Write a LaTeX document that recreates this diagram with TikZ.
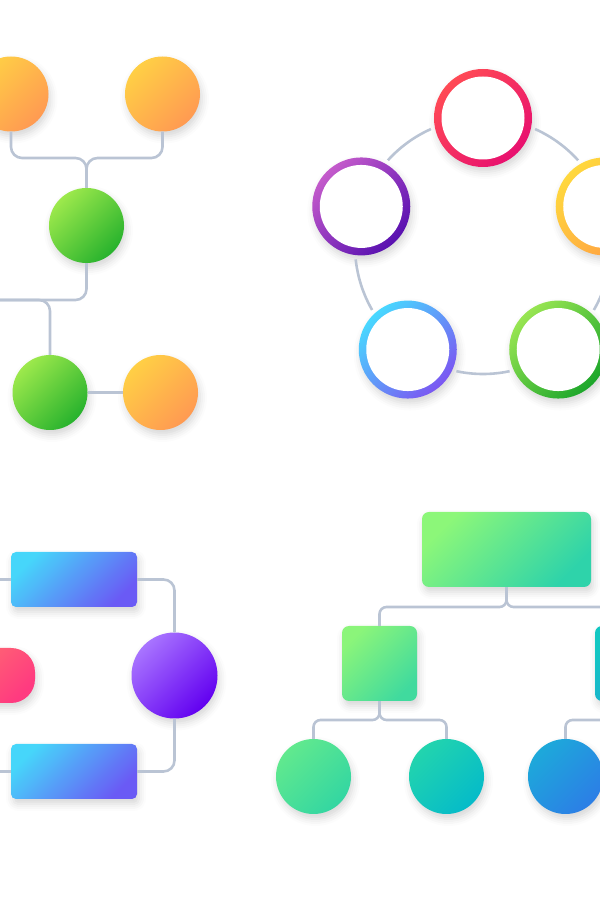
\documentclass[tikz,border=0pt]{standalone}
\usetikzlibrary{calc,shadows.blur}

\definecolor{linje}{HTML}{BAC4D4}
\definecolor{oransjeA}{HTML}{FFCF45}
\definecolor{oransjeB}{HTML}{FF9A52}
\definecolor{gronnA}{HTML}{9DE94C}
\definecolor{gronnB}{HTML}{27B22D}
\definecolor{rodA}{HTML}{FF4A55}
\definecolor{rodB}{HTML}{E8106F}
\definecolor{gulA}{HTML}{FFD83E}
\definecolor{gulB}{HTML}{FF9E42}
\definecolor{lillaA}{HTML}{C45BCB}
\definecolor{lillaB}{HTML}{5810B0}
\definecolor{blaaA}{HTML}{48D8FF}
\definecolor{blaaB}{HTML}{7B56F2}
\definecolor{ringgronnA}{HTML}{98E552}
\definecolor{ringgronnB}{HTML}{1CA62B}
\definecolor{boksA}{HTML}{46D6FA}
\definecolor{boksB}{HTML}{6A5AF5}
\definecolor{fiolA}{HTML}{A874FF}
\definecolor{fiolB}{HTML}{6200F0}
\definecolor{rosaA}{HTML}{FF7070}
\definecolor{rosaB}{HTML}{FF3A80}
\definecolor{mintA}{HTML}{8CF779}
\definecolor{mintB}{HTML}{2ED3AA}
\definecolor{kvadA}{HTML}{8BF57A}
\definecolor{kvadB}{HTML}{40DA9E}
\definecolor{tealA}{HTML}{12C7C2}
\definecolor{tealB}{HTML}{1CA5D2}
\definecolor{venA}{HTML}{61E98E}
\definecolor{venB}{HTML}{33D6A2}
\definecolor{midA}{HTML}{22D4AE}
\definecolor{midB}{HTML}{05BBC9}
\definecolor{hoyA}{HTML}{1DA9DA}
\definecolor{hoyB}{HTML}{2C7EE6}

\begin{document}
\begin{tikzpicture}[x=1pt, y=1pt,
	link/.style={linje, line width=2.6pt, rounded corners=11pt},
	skygge/.style={blur shadow={shadow xshift=2pt, shadow yshift=-5pt, shadow blur radius=7pt, shadow opacity=16}},
	ball/.style 2 args={circle, inner sep=0pt, minimum size=75pt, skygge, top color=#1, bottom color=#2, shading angle=45},
	ring/.style 2 args={circle, inner sep=0pt, minimum size=98pt, skygge, top color=#1, bottom color=#2, shading angle=45,
		path picture={\fill[white] (path picture bounding box.center) circle (41.5pt);}},
	boks/.style 2 args={rectangle, inner sep=0pt, rounded corners=5pt, skygge, top color=#1, bottom color=#2, shading angle=45}]
	\useasboundingbox (0,0) rectangle (600,900);
	\clip (0,0) rectangle (600,900);

	% Oppe til venstre: tre av baller
	\node[ball={oransjeA}{oransjeB}] (o1) at (11,806) {};
	\node[ball={oransjeA}{oransjeB}] (o2) at (162.5,806) {};
	\node[ball={gronnA}{gronnB}] (g1) at (86.5,674.5) {};
	\node[ball={gronnA}{gronnB}] (g2) at (50,507.5) {};
	\node[ball={oransjeA}{oransjeB}] (o3) at (160.5,507.5) {};
	\coordinate (jA) at (86.5,742);
	\coordinate (eA) at (-10,600);
	\draw[link] (o1.south) |- (jA) -- (g1.north);
	\draw[link] (o2.south) |- (jA) -- (g1.north);
	\draw[link] (g1.south) |- (eA);
	\draw[link] (eA) -| (g2.north);
	\draw[link] (g2.east) -- (o3.west);

	% Oppe til hoyre: ringer rundt et nav
	\coordinate (hub) at (483,654);
	\foreach \navn/\v/\fa/\fb in {rA/90/rodA/rodB, rB/162/lillaA/lillaB, rC/234/blaaA/blaaB,
		rD/306/ringgronnA/ringgronnB, rE/18/gulA/gulB}
		\node[ring={\fa}{\fb}] (\navn) at ($(hub)+(\v:128)$) {};
	\foreach \v in {90,162,234,306,18}
		\draw[link] ([shift={({\v+24}:128)}]hub) arc[start angle=\v+24, end angle=\v+48, radius=128];

	% Nede til venstre: bokser mot en ball
	\node[boks={boksA}{boksB}, minimum width=126pt, minimum height=55pt] (b1) at (74,320.5) {};
	\node[boks={boksA}{boksB}, minimum width=126pt, minimum height=55pt] (b2) at (74,128.5) {};
	\node[boks={rosaA}{rosaB}, rounded corners=24pt, minimum width=95pt, minimum height=55pt] (pille) at (-12.5,224.5) {};
	\node[ball={fiolA}{fiolB}, minimum size=86pt] (fiol) at (174.5,224.5) {};
	\coordinate (eC) at (-10,320.5);
	\coordinate (eF) at (-10,128.5);
	\draw[link] (b1.west) -- (eC);
	\draw[link] (b2.west) -- (eF);
	\draw[link] (b1.east) -| (fiol.north);
	\draw[link] (b2.east) -| (fiol.south);

	% Nede til hoyre: organisasjonskart
	\node[boks={mintA}{mintB}, rounded corners=7pt, minimum width=169pt, minimum height=75pt] (topp) at (506.5,350.5) {};
	\node[boks={kvadA}{kvadB}, rounded corners=7pt, minimum size=75pt] (kvV) at (379.5,236.5) {};
	\node[boks={tealA}{tealB}, rounded corners=7pt, minimum size=75pt] (kvH) at (632.5,236.5) {};
	\node[ball={venA}{venB}] (cV) at (313.5,123.5) {};
	\node[ball={midA}{midB}] (cM) at (446.5,123.5) {};
	\node[ball={hoyA}{hoyB}] (cH) at (565.5,123.5) {};
	\coordinate (jD) at (506.5,293);
	\coordinate (eD) at (610,293);
	\coordinate (jE) at (379.5,180);
	\coordinate (eE) at (610,180);
	\draw[link, rounded corners=7pt] (topp.south) -- (jD) -| (kvV.north);
	\draw[link, rounded corners=7pt] (topp.south) |- (eD);
	\draw[link, rounded corners=7pt] (kvV.south) -- (jE) -| (cV.north);
	\draw[link, rounded corners=7pt] (kvV.south) -- (jE) -| (cM.north);
	\draw[link, rounded corners=7pt] (cH.north) |- (eE);
\end{tikzpicture}
\end{document}
